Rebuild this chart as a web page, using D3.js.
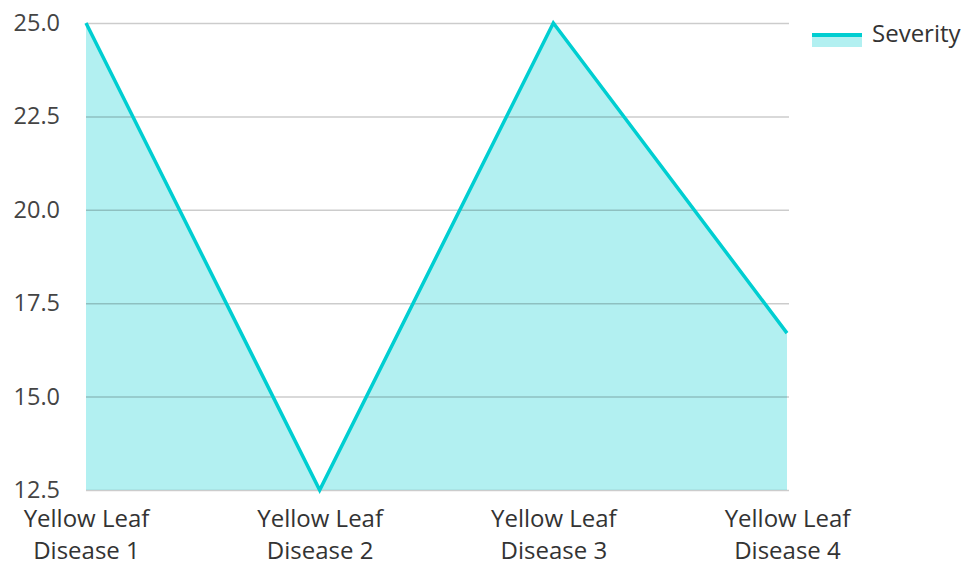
<!DOCTYPE html>
<html>
<head>
<meta charset="utf-8">
<script src="https://cdn.jsdelivr.net/npm/d3@7"></script>
<style>
  body { margin: 0; background: #fff; }
  svg text { font-family: 'Open Sans', sans-serif; }
</style>
</head>
<body>
<div id="chart"></div>
<script>
const categories = ['Yellow Leaf Disease 1', 'Yellow Leaf Disease 2', 'Yellow Leaf Disease 3', 'Yellow Leaf Disease 4'];
const severity = [25, 12.5, 25, 16.7];
const yTicks = [12.5, 15, 17.5, 20, 22.5, 25];
const seriesName = 'Severity';

const colour = 'rgb(0, 206, 209)';
const fillColour = 'rgba(0, 206, 209, 0.3)';

const width = 966;
const height = 562;
const margin = { top: 23, right: 179, bottom: 72, left: 86 };

const svg = d3.select('#chart').append('svg')
  .attr('width', width)
  .attr('height', height);

const x = d3.scalePoint()
  .domain(categories)
  .range([margin.left, width - margin.right]);

const y = d3.scaleLinear()
  .domain([12.5, 25])
  .range([height - margin.bottom, margin.top]);

const data = categories.map((c, i) => ({ c, v: severity[i] }));

// area
svg.append('path')
  .datum(data)
  .attr('fill', fillColour)
  .attr('d', d3.area()
    .x(d => x(d.c))
    .y0(y(12.5))
    .y1(d => y(d.v)));

// grid + y axis
const yAxis = svg.append('g')
  .attr('transform', `translate(${margin.left},0)`)
  .call(d3.axisLeft(y)
    .tickValues(yTicks)
    .tickFormat(d3.format('.1f'))
    .tickSize(-(width - margin.left - margin.right + 2))
    .tickPadding(26));
yAxis.select('.domain').remove();
yAxis.selectAll('.tick line')
  .attr('stroke', 'rgba(0,0,0,0.2)')
  .attr('stroke-width', 1.5);
yAxis.selectAll('.tick text')
  .attr('fill', '#444')
  .style('font-size', '23.5px');

// line
svg.append('path')
  .datum(data)
  .attr('fill', 'none')
  .attr('stroke', colour)
  .attr('stroke-width', 3.5)
  .attr('d', d3.line()
    .x(d => x(d.c))
    .y(d => y(d.v)));

// x axis labels, two lines each
const xAxis = svg.append('g')
  .attr('transform', `translate(0,${height - margin.bottom})`)
  .call(d3.axisBottom(x).tickSize(0).tickFormat(''));
xAxis.select('.domain').remove();
xAxis.selectAll('.tick').each(function(d) {
  const words = d.split(' ');
  const lines = [words.slice(0, 2).join(' '), words.slice(2).join(' ')];
  const t = d3.select(this).append('text')
    .attr('fill', '#333')
    .attr('text-anchor', 'middle')
    .style('font-size', '24px');
  lines.forEach((l, i) => {
    t.append('tspan').attr('x', 0).attr('y', 37 + i * 32).text(l);
  });
});

// legend
const legend = svg.append('g').attr('transform', 'translate(812,33)');
legend.append('rect')
  .attr('width', 50).attr('height', 14)
  .attr('fill', fillColour);
legend.append('line')
  .attr('x1', 0).attr('x2', 50)
  .attr('y1', 2).attr('y2', 2)
  .attr('stroke', colour).attr('stroke-width', 4);
legend.append('text')
  .attr('x', 60).attr('y', 3)
  .attr('dominant-baseline', 'middle')
  .attr('fill', '#333')
  .style('font-size', '24px')
  .text(seriesName);
</script>
</body>
</html>
